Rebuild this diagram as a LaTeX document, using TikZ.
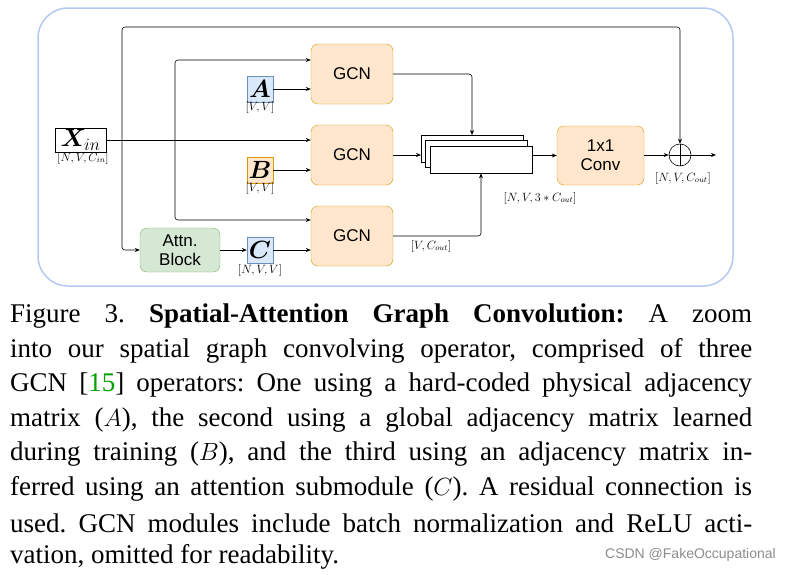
\documentclass[tikz,border=0pt]{standalone}
\usepackage{amsmath,bm}
\usepackage{fontspec}
\setmainfont{Liberation Serif}
\newfontfamily\sansf{Liberation Sans}
\usetikzlibrary{arrows.meta}
\definecolor{bfill}{HTML}{DAE8FC}\definecolor{bline}{HTML}{6C8EBF}
\definecolor{ofill}{HTML}{FFE6CC}\definecolor{oline}{HTML}{D79B00}
\definecolor{gfill}{HTML}{D5E8D4}\definecolor{gline}{HTML}{82B366}
\definecolor{frame}{HTML}{B3C9F2}\definecolor{cite}{HTML}{00A000}
\frenchspacing
\begin{document}
\begin{tikzpicture}[x=1pt,y=-1pt,
  box/.style={draw=oline,fill=ofill,rounded corners=7pt,minimum width=82pt,minimum height=60pt,font=\sansf\fontsize{17}{19}\selectfont,align=center,inner sep=0pt},
  mat/.style={draw,minimum width=26pt,minimum height=26pt,inner sep=0pt,font=\fontsize{23}{23}\selectfont},
  dim/.style={font=\fontsize{11.5}{11.5}\selectfont,inner sep=0pt},
  arr/.style={-{Stealth[length=5pt,width=4pt]},line width=0.6pt},
  ln/.style={line width=0.6pt},
  capline/.style={anchor=west,inner sep=0pt,font=\fontsize{27}{30}\selectfont}]
\useasboundingbox (0,0) rectangle (790,574);
\draw[frame,line width=1.5pt,rounded corners=30pt] (38,8) rectangle (733,286);
\node[draw,minimum width=51pt,minimum height=24pt,inner sep=0pt] (x) at (80.5,140) {\fontsize{23}{23}\selectfont$\bm{X}_{in}$};
\node[dim] at (83,158) {$[N,V,C_{in}]$};
\node[box] (g1) at (352,74) {GCN};
\node[box] (g2) at (352,155) {GCN};
\node[box] (g3) at (352,236) {GCN};
\node[box,minimum width=87pt,minimum height=59pt] (conv) at (600.5,155.5) {1x1\\Conv};
\node[box,draw=gline,fill=gfill,minimum width=80pt,minimum height=44pt] (att) at (180,250) {Attn.\\Block};
\node[mat,draw=bline,fill=bfill] (a) at (260,89) {$\bm{A}$};
\node[dim] at (260,107) {$[V,V]$};
\node[mat,draw=oline,fill=ofill] (b) at (260,170) {$\bm{B}$};
\node[dim] at (260,188) {$[V,V]$};
\node[mat,draw=bline,fill=bfill] (c) at (260,250) {$\bm{C}$};
\node[dim] at (260,270) {$[N,V,V]$};
\draw[fill=white,ln] (421,135) rectangle (523,162);
\draw[fill=white,ln] (425,140) rectangle (527,167);
\node[draw,fill=white,ln,minimum width=102pt,minimum height=27pt,inner sep=0pt] (st) at (481,159.5) {};
\coordinate (stl) at (421,155);
\node[dim] at (540,198) {$[N,V,3*C_{out}]$};
\node[dim] at (431,246) {$[V,C_{out}]$};
\node[draw,circle,minimum size=22pt,inner sep=0pt,ln] (s) at (680,155) {};
\draw[ln] (s.north)--(s.south) (s.west)--(s.east);
\node[dim] at (683,178) {$[N,V,C_{out}]$};
\coordinate (o) at (716,155);
% connectors
\draw[arr] (x.east) -- (g2.west|-x.east);
\draw[arr,rounded corners=3pt] (122,140) |- (s.north|-0,27) -- (s.north);
\draw[arr,rounded corners=3pt] (122,140) |- (att.west);
\draw[arr,rounded corners=3pt] (175,140) |- (g1.west|-0,60);
\draw[arr,rounded corners=3pt] (175,140) |- (g3.west|-0,220);
\draw[arr] (a) -- (g1.west|-a);
\draw[arr] (b) -- (g2.west|-b);
\draw[arr] (att) -- (c);
\draw[arr] (c) -- (g3.west|-c);
\draw[arr,rounded corners=3pt] (g1.east) -| (472,135);
\draw[arr] (g2.east) -- (stl);
\draw[arr,rounded corners=3pt] (g3.east) -| (st.south-|481,0);
\draw[arr] (st.east|-conv.west) -- (conv.west);
\draw[arr] (conv.east|-s) -- (s.west);
\draw[arr] (s.east) -- (o);
% caption
\node[capline] at (10,316) {\makebox[742pt][s]{Figure 3. \textbf{Spatial-Attention Graph Convolution:} A zoom}};
\node[capline] at (10,351) {\makebox[742pt][s]{into our spatial graph convolving operator, comprised of three}};
\node[capline] at (10,385) {\makebox[742pt][s]{GCN [\textcolor{cite}{15}] operators: One using a hard-coded physical adjacency}};
\node[capline] at (10,420) {\makebox[742pt][s]{matrix ($A$), the second using a global adjacency matrix learned}};
\node[capline] at (10,454) {\makebox[742pt][s]{during training ($B$), and the third using an adjacency matrix in-}};
\node[capline] at (10,489) {\makebox[742pt][s]{ferred using an attention submodule ($C$). A residual connection is}};
\node[capline] at (10,523) {\makebox[742pt][s]{used. GCN modules include batch normalization and ReLU acti-}};
\node[capline] at (10,557) {vation, omitted for readability.};
\node[anchor=east,inner sep=0pt,text=black!45,font=\sansf\fontsize{14}{14}\selectfont] (w) at (776,555) {CSDN @FakeOccupational};
\end{tikzpicture}
\end{document}
